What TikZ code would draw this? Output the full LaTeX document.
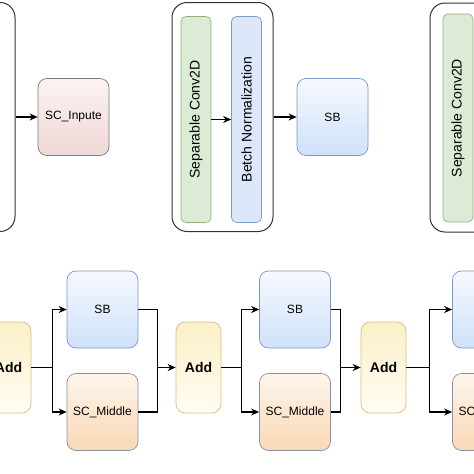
\documentclass[tikz,border=0pt]{standalone}
\usepackage{fontspec}
\setmainfont{Liberation Sans}
\usetikzlibrary{arrows.meta}
\definecolor{sbline}{HTML}{7C97C0}
\definecolor{sbtop}{HTML}{F6F9FE}
\definecolor{sbbot}{HTML}{CFE1FA}
\definecolor{scline}{HTML}{8493AA}
\definecolor{sctop}{HTML}{FDF5EC}
\definecolor{scbot}{HTML}{FAD8B4}
\definecolor{inline}{HTML}{7A7A7A}
\definecolor{intop}{HTML}{FBF3F2}
\definecolor{inbot}{HTML}{F0D8D6}
\definecolor{addline}{HTML}{D8C07A}
\definecolor{addtop}{HTML}{FCEFC8}
\definecolor{addbot}{HTML}{FFFCF3}
\definecolor{convline}{HTML}{8FB27E}
\definecolor{convfill}{HTML}{DDEBD6}
\definecolor{bnline}{HTML}{7F9CC6}
\definecolor{bnfill}{HTML}{DCE8F9}
\begin{document}
\begin{tikzpicture}[x=1pt,y=-1pt,%
% common options for blocks:
block/.style = {draw, rounded corners=9pt, align=center, line width=0.7pt,
            minimum width=71pt, minimum height=77pt, inner sep=0,
            font=\fontsize{12}{14}\selectfont},
sbblock/.style = {block, draw=sbline, top color=sbtop, bottom color=sbbot},
scblock/.style = {block, draw=scline, top color=sctop, bottom color=scbot},
inblock/.style = {block, draw=inline, top color=intop, bottom color=inbot},
addblock/.style = {block, draw=addline, top color=addtop, bottom color=addbot,
            minimum width=45pt, minimum height=91pt,
            font=\fontsize{14}{16}\selectfont\bfseries},
% common options for the groups and their layers:
group/.style = {draw=black!80, rounded corners=15pt, line width=1pt,
            minimum width=101pt, minimum height=229pt},
layer/.style = {draw, rounded corners=5pt, rotate=90, line width=0.7pt,
            minimum width=206pt, minimum height=30pt, inner sep=0,
            font=\fontsize{14}{16}\selectfont},
conn/.style = {line width=1.1pt, -{Stealth[length=8pt,width=7pt]}},
wire/.style = {line width=1.1pt}]
\useasboundingbox (0,0) rectangle (474,474);
% top row
\node[group] (G0) at (-35.5,117) {};
\node[inblock] (IN) at (73.5,117) {SC\_Inpute};
\node[group] (G1) at (222.5,117) {};
\node[layer, draw=convline, fill=convfill] (C1) at (196,119.5) {Separable Conv2D};
\node[layer, draw=bnline, fill=bnfill] (N1) at (246.5,119.5) {Betch Normalization};
\node[sbblock] (SB0) at (332.5,117) {SB};
\node[group] (G2) at (480.5,117.5) {};
\node[layer, draw=convline, fill=convfill, minimum width=208pt] (C2) at (458,118) {Separable Conv2D};
\draw[conn] (G0.east) to (IN.west);
\draw[conn] (C1.south) to (N1.north);
\draw[conn] (G1.east) to (SB0.west);
% bottom row
\node[addblock] (A0) at (8.5,367.5) {Add};
\node[sbblock] (SB1) at (102.5,309.5) {SB};
\node[scblock] (SC1) at (102.5,412) {SC\_Middle};
\node[addblock] (A1) at (198.5,367.5) {Add};
\node[sbblock] (SB2) at (295,309.5) {SB};
\node[scblock] (SC2) at (295,412) {SC\_Middle};
\node[addblock] (A2) at (383.5,367.5) {Add};
\node[sbblock] (SB3) at (488,309.5) {SB};
\node[scblock] (SC3) at (488,412) {SC\_Middle};
\draw[conn] (A0.east) -- ++(21,0) coordinate (S1) |- (SB1.west);
\draw[conn] (S1) |- (SC1.west);
\draw[wire] (SB1.east) -- ++(19,0) coordinate (M1) |- (SC1.east);
\draw[conn] (M1 |- A1.west) -- (A1.west);
\draw[conn] (A1.east) -- ++(20,0) coordinate (S2) |- (SB2.west);
\draw[conn] (S2) |- (SC2.west);
\draw[wire] (SB2.east) -- ++(10,0) coordinate (M2) |- (SC2.east);
\draw[conn] (M2 |- A2.west) -- (A2.west);
\draw[conn] (A2.east) -- ++(23,0) coordinate (S3) |- (SB3.west);
\draw[conn] (S3) |- (SC3.west);
\end{tikzpicture}
\end{document}
